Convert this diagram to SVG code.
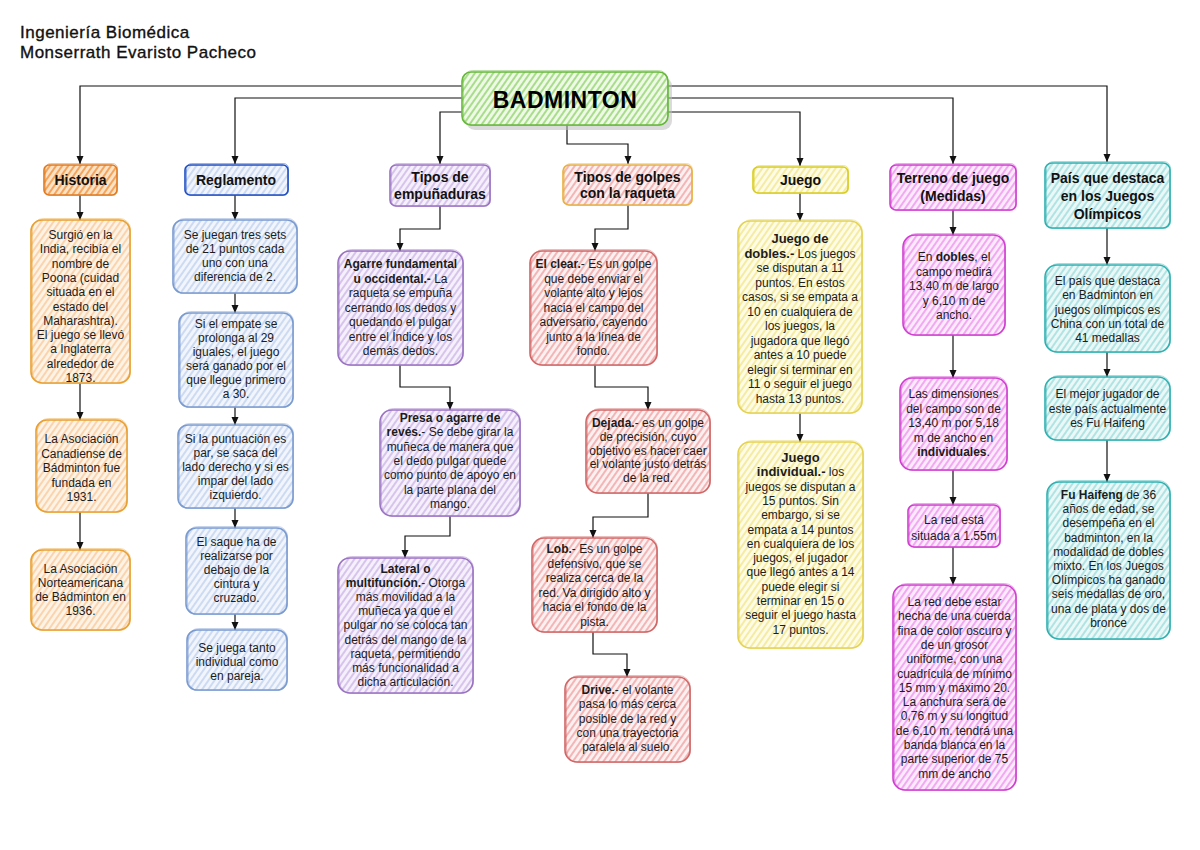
<svg xmlns="http://www.w3.org/2000/svg" width="1200" height="850" viewBox="0 0 1200 850">
<defs>
<pattern id="p-gr" width="5" height="5" patternUnits="userSpaceOnUse" patternTransform="rotate(35)"><rect width="5" height="5" fill="#eef9e6"/><line x1="1" y1="0" x2="1" y2="5" stroke="#98d676" stroke-width="1.6"/></pattern>
<pattern id="p-orH" width="5" height="5" patternUnits="userSpaceOnUse" patternTransform="rotate(35)"><rect width="5" height="5" fill="#fde2c6"/><line x1="1" y1="0" x2="1" y2="5" stroke="#f39a4a" stroke-width="1.7"/></pattern>
<pattern id="p-or" width="5" height="5" patternUnits="userSpaceOnUse" patternTransform="rotate(35)"><rect width="5" height="5" fill="#fff3e6"/><line x1="1" y1="0" x2="1" y2="5" stroke="#f8c796" stroke-width="1.4"/></pattern>
<pattern id="p-bl" width="5" height="5" patternUnits="userSpaceOnUse" patternTransform="rotate(35)"><rect width="5" height="5" fill="#f2f6fc"/><line x1="1" y1="0" x2="1" y2="5" stroke="#bccfee" stroke-width="1.4"/></pattern>
<pattern id="p-pu" width="5" height="5" patternUnits="userSpaceOnUse" patternTransform="rotate(35)"><rect width="5" height="5" fill="#f6f0fc"/><line x1="1" y1="0" x2="1" y2="5" stroke="#c9b1e5" stroke-width="1.4"/></pattern>
<pattern id="p-rd" width="5" height="5" patternUnits="userSpaceOnUse" patternTransform="rotate(35)"><rect width="5" height="5" fill="#fdf0f0"/><line x1="1" y1="0" x2="1" y2="5" stroke="#f0a2a2" stroke-width="1.5"/></pattern>
<pattern id="p-ye" width="5" height="5" patternUnits="userSpaceOnUse" patternTransform="rotate(35)"><rect width="5" height="5" fill="#fffce6"/><line x1="1" y1="0" x2="1" y2="5" stroke="#f1e68e" stroke-width="1.5"/></pattern>
<pattern id="p-mg" width="5" height="5" patternUnits="userSpaceOnUse" patternTransform="rotate(35)"><rect width="5" height="5" fill="#fdeafd"/><line x1="1" y1="0" x2="1" y2="5" stroke="#ee99ee" stroke-width="1.6"/></pattern>
<pattern id="p-tl" width="5" height="5" patternUnits="userSpaceOnUse" patternTransform="rotate(35)"><rect width="5" height="5" fill="#eaf8f8"/><line x1="1" y1="0" x2="1" y2="5" stroke="#9edcdc" stroke-width="1.5"/></pattern>
<marker id="ar" markerWidth="8" markerHeight="8" refX="8" refY="4" orient="auto" markerUnits="userSpaceOnUse"><path d="M0,0.5 L8,4 L0,7.5 z" fill="#111"/></marker>
<style>
.t{font-family:"Liberation Sans",Arial,sans-serif;font-size:12px;fill:#1c1c1c;text-anchor:middle}
.hd{font-size:14px;font-weight:bold;fill:#111}
.b{font-weight:bold}
.box{stroke-width:1.6}
.sk{fill:none;stroke-width:0.8;opacity:0.55}
.gr .box{fill:url(#p-gr);stroke:#66b83a}.gr .sk{stroke:#66b83a}
.orH .box{fill:url(#p-orH);stroke:#e07b20}.orH .sk{stroke:#e07b20}
.or .box{fill:url(#p-or);stroke:#e8a032}.or .sk{stroke:#e8a032}
.blH .box{fill:url(#p-bl);stroke:#1f4fc4}.blH .sk{stroke:#1f4fc4}
.bl .box{fill:url(#p-bl);stroke:#7a9bd0}.bl .sk{stroke:#7a9bd0}
.pu .box{fill:url(#p-pu);stroke:#9a72c2}.pu .sk{stroke:#9a72c2}
.rdH .box{fill:url(#p-rd);stroke:#e8b040}.rdH .sk{stroke:#e8b040}
.rd .box{fill:url(#p-rd);stroke:#d06666}.rd .sk{stroke:#d06666}
.yeH .box{fill:url(#p-ye);stroke:#d8cc1c}.yeH .sk{stroke:#d8cc1c}
.ye .box{fill:url(#p-ye);stroke:#e4d250}.ye .sk{stroke:#e4d250}
.mg .box{fill:url(#p-mg);stroke:#d03ed0}.mg .sk{stroke:#d03ed0}
.tl .box{fill:url(#p-tl);stroke:#2eb0b0}.tl .sk{stroke:#2eb0b0}
.ca{fill:none;stroke:#111;stroke-width:1.2;marker-end:url(#ar)}
.title{font-family:"Liberation Sans",Arial,sans-serif;font-size:17px;fill:#111;stroke:#111;stroke-width:0.35;letter-spacing:0.5px}
</style>
</defs>
<rect width="1200" height="850" fill="#ffffff"/>

<g id="title">
<text class="title" x="20" y="38">Ingeniería Biomédica</text>
<text class="title" x="20" y="58">Monserrath Evaristo Pacheco</text>
</g>

<g id="connectors">
<path class="ca" d="M462,86 H80 V164"/>
<path class="ca" d="M462,98 H235 V164"/>
<path class="ca" d="M462,112 H440 V164"/>
<path class="ca" d="M567,125 V144 H628 V164"/>
<path class="ca" d="M668,112 H800 V166"/>
<path class="ca" d="M668,98 H953 V164"/>
<path class="ca" d="M668,86 H1107 V162"/>
<path class="ca" d="M80,195 V220"/>
<path class="ca" d="M80,383 V420"/>
<path class="ca" d="M80,512 V550"/>
<path class="ca" d="M235,195 V220"/>
<path class="ca" d="M235,293 V313"/>
<path class="ca" d="M235,407 V425"/>
<path class="ca" d="M235,508 V528"/>
<path class="ca" d="M235,614 V630"/>
<path class="ca" d="M440,206 V229 H400 V251"/>
<path class="ca" d="M400,365 V387 H450 V410"/>
<path class="ca" d="M450,516 V536 H405 V558"/>
<path class="ca" d="M628,205 V229 H595 V251"/>
<path class="ca" d="M595,365 V387 H648 V410"/>
<path class="ca" d="M648,493 V517 H593 V538"/>
<path class="ca" d="M593,632 V654 H627 V677"/>
<path class="ca" d="M800,193 V221"/>
<path class="ca" d="M800,413 V442"/>
<path class="ca" d="M953,210 V235"/>
<path class="ca" d="M953,335 V378"/>
<path class="ca" d="M953,470 V505"/>
<path class="ca" d="M953,547 V585"/>
<path class="ca" d="M1107,228 V265"/>
<path class="ca" d="M1107,352 V377"/>
<path class="ca" d="M1107,440 V482"/>
</g>

<g id="badminton" class="gr">
<rect x="466" y="77" width="206" height="53" rx="9" fill="#bdbdbd" opacity="0.55"/>
<rect class="box" x="462" y="72" width="206" height="53" rx="9" stroke-width="2"/>
<rect class="sk" x="463.5" y="70.5" width="204" height="55" rx="9"/>
<text class="t b" x="565" y="108" style="font-size:23px;fill:#000;letter-spacing:0.5px">BADMINTON</text>
</g>

<g id="historia" class="orH">
<rect class="box" x="44" y="165" width="73" height="30" rx="5"/>
<rect class="sk" x="45.5" y="163.5" width="72" height="32" rx="5"/>
<text class="t hd" x="80.5" y="185">Historia</text>
</g>
<g id="historia-1" class="or">
<rect class="box" x="31" y="220" width="99" height="163" rx="11"/>
<rect class="sk" x="32.5" y="218.5" width="98" height="165" rx="11"/>
<text class="t"><tspan x="80.5" y="239">Surgió en la</tspan><tspan x="80.5" y="253.3">India, recibía el</tspan><tspan x="80.5" y="267.6">nombre de</tspan><tspan x="80.5" y="281.9">Poona (cuidad</tspan><tspan x="80.5" y="296.2">situada en el</tspan><tspan x="80.5" y="310.5">estado del</tspan><tspan x="80.5" y="324.8">Maharashtra).</tspan><tspan x="80.5" y="339.1">El juego se llevó</tspan><tspan x="80.5" y="353.4">a Inglaterra</tspan><tspan x="80.5" y="367.7">alrededor de</tspan><tspan x="80.5" y="382">1873.</tspan></text>
</g>
<g id="historia-2" class="or">
<rect class="box" x="36" y="420" width="91" height="92" rx="11"/>
<rect class="sk" x="37.5" y="418.5" width="90" height="94" rx="11"/>
<text class="t"><tspan x="81.5" y="443">La Asociación</tspan><tspan x="81.5" y="457.5">Canadiense de</tspan><tspan x="81.5" y="472">Bádminton fue</tspan><tspan x="81.5" y="486.5">fundada en</tspan><tspan x="81.5" y="501">1931.</tspan></text>
</g>
<g id="historia-3" class="or">
<rect class="box" x="31" y="550" width="99" height="80" rx="11"/>
<rect class="sk" x="32.5" y="548.5" width="98" height="82" rx="11"/>
<text class="t"><tspan x="80.5" y="573">La Asociación</tspan><tspan x="80.5" y="587">Norteamericana</tspan><tspan x="80.5" y="601">de Bádminton en</tspan><tspan x="80.5" y="615">1936.</tspan></text>
</g>

<g id="reglamento" class="blH">
<rect class="box" x="185" y="165" width="103" height="30" rx="5"/>
<rect class="sk" x="186.5" y="163.5" width="102" height="32" rx="5"/>
<text class="t hd" x="236" y="185">Reglamento</text>
</g>
<g id="reglamento-1" class="bl">
<rect class="box" x="173" y="220" width="124" height="73" rx="10"/>
<rect class="sk" x="174.5" y="218.5" width="123" height="75" rx="10"/>
<text class="t"><tspan x="235" y="239">Se juegan tres sets</tspan><tspan x="235" y="253">de 21 puntos cada</tspan><tspan x="235" y="267">uno con una</tspan><tspan x="235" y="281">diferencia de 2.</tspan></text>
</g>
<g id="reglamento-2" class="bl">
<rect class="box" x="179" y="313" width="114" height="94" rx="10"/>
<rect class="sk" x="180.5" y="311.5" width="113" height="96" rx="10"/>
<text class="t"><tspan x="236" y="328">Si el empate se</tspan><tspan x="236" y="342">prolonga al 29</tspan><tspan x="236" y="356">iguales, el juego</tspan><tspan x="236" y="370">será ganado por el</tspan><tspan x="236" y="384">que llegue primero</tspan><tspan x="236" y="398">a 30.</tspan></text>
</g>
<g id="reglamento-3" class="bl">
<rect class="box" x="178" y="425" width="115" height="83" rx="10"/>
<rect class="sk" x="179.5" y="423.5" width="114" height="85" rx="10"/>
<text class="t"><tspan x="235.5" y="443">Si la puntuación es</tspan><tspan x="235.5" y="457">par, se saca del</tspan><tspan x="235.5" y="471">lado derecho y si es</tspan><tspan x="235.5" y="485">impar del lado</tspan><tspan x="235.5" y="499">izquierdo.</tspan></text>
</g>
<g id="reglamento-4" class="bl">
<rect class="box" x="186" y="528" width="101" height="86" rx="10"/>
<rect class="sk" x="187.5" y="526.5" width="100" height="88" rx="10"/>
<text class="t"><tspan x="236.5" y="546">El saque ha de</tspan><tspan x="236.5" y="560">realizarse por</tspan><tspan x="236.5" y="574">debajo de la</tspan><tspan x="236.5" y="588">cintura y</tspan><tspan x="236.5" y="602">cruzado.</tspan></text>
</g>
<g id="reglamento-5" class="bl">
<rect class="box" x="187" y="630" width="100" height="60" rx="10"/>
<rect class="sk" x="188.5" y="628.5" width="99" height="62" rx="10"/>
<text class="t"><tspan x="237" y="652">Se juega tanto</tspan><tspan x="237" y="666">individual como</tspan><tspan x="237" y="680">en pareja.</tspan></text>
</g>

<g id="empunaduras" class="pu">
<rect class="box" x="390" y="165" width="100" height="41" rx="6"/>
<rect class="sk" x="391.5" y="163.5" width="99" height="43" rx="6"/>
<text class="t hd"><tspan x="440" y="182">Tipos de</tspan><tspan x="440" y="199">empuñaduras</tspan></text>
</g>
<g id="empunaduras-1" class="pu">
<rect class="box" x="338" y="251" width="125" height="114" rx="12"/>
<rect class="sk" x="339.5" y="249.5" width="124" height="116" rx="12"/>
<text class="t"><tspan x="400.5" y="268" class="b">Agarre fundamental</tspan><tspan x="400.5" y="282.5"><tspan class="b">u occidental.-</tspan>  La</tspan><tspan x="400.5" y="297">raqueta se empuña</tspan><tspan x="400.5" y="311.5">cerrando los dedos y</tspan><tspan x="400.5" y="326">quedando el pulgar</tspan><tspan x="400.5" y="340.5">entre el Índice y los</tspan><tspan x="400.5" y="355">demás dedos.</tspan></text>
</g>
<g id="empunaduras-2" class="pu">
<rect class="box" x="380" y="410" width="140" height="106" rx="12"/>
<rect class="sk" x="381.5" y="408.5" width="139" height="108" rx="12"/>
<text class="t"><tspan x="450" y="422" class="b">Presa o agarre de</tspan><tspan x="450" y="436.3"><tspan class="b">revés.</tspan>- Se debe girar la</tspan><tspan x="450" y="450.6">muñeca de manera que</tspan><tspan x="450" y="464.9">el dedo pulgar quede</tspan><tspan x="450" y="479.2">como punto de apoyo en</tspan><tspan x="450" y="493.5">la parte plana del</tspan><tspan x="450" y="507.8">mango.</tspan></text>
</g>
<g id="empunaduras-3" class="pu">
<rect class="box" x="338" y="558" width="135" height="135" rx="12"/>
<rect class="sk" x="339.5" y="556.5" width="134" height="137" rx="12"/>
<text class="t"><tspan x="405.5" y="573" class="b">Lateral o</tspan><tspan x="405.5" y="587.1"><tspan class="b">multifunción.</tspan>- Otorga</tspan><tspan x="405.5" y="601.2">más movilidad a la</tspan><tspan x="405.5" y="615.3">muñeca ya que el</tspan><tspan x="405.5" y="629.4">pulgar no se coloca tan</tspan><tspan x="405.5" y="643.5">detrás del mango de la</tspan><tspan x="405.5" y="657.6">raqueta, permitiendo</tspan><tspan x="405.5" y="671.7">más funcionalidad a</tspan><tspan x="405.5" y="685.8">dicha articulación.</tspan></text>
</g>

<g id="golpes" class="rdH">
<rect class="box" x="563" y="165" width="129" height="40" rx="6"/>
<rect class="sk" x="564.5" y="163.5" width="128" height="42" rx="6"/>
<text class="t hd"><tspan x="627.5" y="182">Tipos de golpes</tspan><tspan x="627.5" y="198">con la raqueta</tspan></text>
</g>
<g id="golpes-1" class="rd">
<rect class="box" x="530" y="251" width="127" height="114" rx="12"/>
<rect class="sk" x="531.5" y="249.5" width="126" height="116" rx="12"/>
<text class="t"><tspan x="593.5" y="268"><tspan class="b">El clear.</tspan>- Es un golpe</tspan><tspan x="593.5" y="282.5">que debe enviar el</tspan><tspan x="593.5" y="297">volante alto y lejos</tspan><tspan x="593.5" y="311.5">hacia el campo del</tspan><tspan x="593.5" y="326">adversario, cayendo</tspan><tspan x="593.5" y="340.5">junto a la línea de</tspan><tspan x="593.5" y="355">fondo.</tspan></text>
</g>
<g id="golpes-2" class="rd">
<rect class="box" x="586" y="410" width="124" height="83" rx="12"/>
<rect class="sk" x="587.5" y="408.5" width="123" height="85" rx="12"/>
<text class="t"><tspan x="648" y="427"><tspan class="b">Dejada.</tspan>- es un golpe</tspan><tspan x="648" y="440.8">de precisión, cuyo</tspan><tspan x="648" y="454.6">objetivo es hacer caer</tspan><tspan x="648" y="468.4">el volante justo detrás</tspan><tspan x="648" y="482.2">de la red.</tspan></text>
</g>
<g id="golpes-3" class="rd">
<rect class="box" x="532" y="538" width="125" height="94" rx="12"/>
<rect class="sk" x="533.5" y="536.5" width="124" height="96" rx="12"/>
<text class="t"><tspan x="594.5" y="553"><tspan class="b">Lob.</tspan>- Es un golpe</tspan><tspan x="594.5" y="567.5">defensivo, que se</tspan><tspan x="594.5" y="582">realiza cerca de la</tspan><tspan x="594.5" y="596.5">red. Va dirigido alto y</tspan><tspan x="594.5" y="611">hacia el fondo de la</tspan><tspan x="594.5" y="625.5">pista.</tspan></text>
</g>
<g id="golpes-4" class="rd">
<rect class="box" x="565" y="677" width="125" height="85" rx="12"/>
<rect class="sk" x="566.5" y="675.5" width="124" height="87" rx="12"/>
<text class="t"><tspan x="627.5" y="694"><tspan class="b">Drive.</tspan>- el volante</tspan><tspan x="627.5" y="708.3">pasa lo más cerca</tspan><tspan x="627.5" y="722.6">posible de la red y</tspan><tspan x="627.5" y="736.9">con una trayectoria</tspan><tspan x="627.5" y="751.2">paralela al suelo.</tspan></text>
</g>

<g id="juego" class="yeH">
<rect class="box" x="753" y="167" width="95" height="26" rx="5"/>
<rect class="sk" x="754.5" y="165.5" width="94" height="28" rx="5"/>
<text class="t hd" x="800.5" y="185">Juego</text>
</g>
<g id="juego-1" class="ye">
<rect class="box" x="738" y="221" width="124" height="192" rx="12"/>
<rect class="sk" x="739.5" y="219.5" width="123" height="194" rx="12"/>
<text class="t"><tspan x="800" y="243" class="b" style="font-size:13px">Juego de</tspan><tspan x="800" y="257.5"><tspan class="b" style="font-size:13px">dobles.-</tspan> Los juegos</tspan><tspan x="800" y="272">se disputan a 11</tspan><tspan x="800" y="286.5">puntos. En estos</tspan><tspan x="800" y="301">casos, si se empata a</tspan><tspan x="800" y="315.5">10 en cualquiera de</tspan><tspan x="800" y="330">los juegos, la</tspan><tspan x="800" y="344.5">jugadora que llegó</tspan><tspan x="800" y="359">antes a 10 puede</tspan><tspan x="800" y="373.5">elegir si terminar en</tspan><tspan x="800" y="388">11 o seguir el juego</tspan><tspan x="800" y="402.5">hasta 13 puntos.</tspan></text>
</g>
<g id="juego-2" class="ye">
<rect class="box" x="738" y="442" width="125" height="206" rx="12"/>
<rect class="sk" x="739.5" y="440.5" width="124" height="208" rx="12"/>
<text class="t"><tspan x="800.5" y="462" class="b" style="font-size:13px">Juego</tspan><tspan x="800.5" y="476.3"><tspan class="b" style="font-size:13px">individual.-</tspan> los</tspan><tspan x="800.5" y="490.6">juegos se disputan a</tspan><tspan x="800.5" y="504.9">15 puntos. Sin</tspan><tspan x="800.5" y="519.2">embargo, si se</tspan><tspan x="800.5" y="533.5">empata a 14 puntos</tspan><tspan x="800.5" y="547.8">en cualquiera de los</tspan><tspan x="800.5" y="562.1">juegos, el jugador</tspan><tspan x="800.5" y="576.4">que llegó antes a 14</tspan><tspan x="800.5" y="590.7">puede elegir si</tspan><tspan x="800.5" y="605">terminar en 15 o</tspan><tspan x="800.5" y="619.3">seguir el juego hasta</tspan><tspan x="800.5" y="633.6">17 puntos.</tspan></text>
</g>

<g id="terreno" class="mg">
<rect class="box" x="890" y="165" width="126" height="45" rx="6"/>
<rect class="sk" x="891.5" y="163.5" width="125" height="47" rx="6"/>
<text class="t hd"><tspan x="953" y="183">Terreno de juego</tspan><tspan x="953" y="201">(Medidas)</tspan></text>
</g>
<g id="terreno-1" class="mg">
<rect class="box" x="903" y="235" width="102" height="100" rx="12"/>
<rect class="sk" x="904.5" y="233.5" width="101" height="102" rx="12"/>
<text class="t"><tspan x="954" y="261">En <tspan class="b">dobles</tspan>, el</tspan><tspan x="954" y="275.5">campo medirá</tspan><tspan x="954" y="290">13,40 m de largo</tspan><tspan x="954" y="304.5">y 6,10 m de</tspan><tspan x="954" y="319">ancho.</tspan></text>
</g>
<g id="terreno-2" class="mg">
<rect class="box" x="900" y="378" width="107" height="92" rx="12"/>
<rect class="sk" x="901.5" y="376.5" width="106" height="94" rx="12"/>
<text class="t"><tspan x="953.5" y="398">Las dimensiones</tspan><tspan x="953.5" y="412.5">del campo son de</tspan><tspan x="953.5" y="427">13,40 m por 5,18</tspan><tspan x="953.5" y="441.5">m de ancho en</tspan><tspan x="953.5" y="456"><tspan class="b">individuales</tspan>.</tspan></text>
</g>
<g id="terreno-3" class="mg">
<rect class="box" x="908" y="505" width="92" height="42" rx="6"/>
<rect class="sk" x="909.5" y="503.5" width="91" height="44" rx="6"/>
<text class="t"><tspan x="954" y="524">La red está</tspan><tspan x="954" y="540">situada a 1.55m</tspan></text>
</g>
<g id="terreno-4" class="mg">
<rect class="box" x="893" y="585" width="123" height="205" rx="12"/>
<rect class="sk" x="894.5" y="583.5" width="122" height="207" rx="12"/>
<text class="t"><tspan x="954.5" y="606">La red debe estar</tspan><tspan x="954.5" y="620.3">hecha de una cuerda</tspan><tspan x="954.5" y="634.6">fina de color oscuro y</tspan><tspan x="954.5" y="648.9">de un grosor</tspan><tspan x="954.5" y="663.2">uniforme, con una</tspan><tspan x="954.5" y="677.5">cuadrícula de mínimo</tspan><tspan x="954.5" y="691.8">15 mm y máximo 20.</tspan><tspan x="954.5" y="706.1">La anchura será de</tspan><tspan x="954.5" y="720.4">0,76 m y su longitud</tspan><tspan x="954.5" y="734.7">de 6,10 m. tendrá una</tspan><tspan x="954.5" y="749">banda blanca en la</tspan><tspan x="954.5" y="763.3">parte superior de 75</tspan><tspan x="954.5" y="777.6">mm de ancho</tspan></text>
</g>

<g id="pais" class="tl">
<rect class="box" x="1045" y="163" width="125" height="65" rx="7"/>
<rect class="sk" x="1046.5" y="161.5" width="124" height="67" rx="7"/>
<text class="t hd"><tspan x="1107.5" y="183">País que destaca</tspan><tspan x="1107.5" y="201">en los Juegos</tspan><tspan x="1107.5" y="219">Olímpicos</tspan></text>
</g>
<g id="pais-1" class="tl">
<rect class="box" x="1045" y="265" width="125" height="87" rx="12"/>
<rect class="sk" x="1046.5" y="263.5" width="124" height="89" rx="12"/>
<text class="t"><tspan x="1107.5" y="285">El país que destaca</tspan><tspan x="1107.5" y="299.3">en Badminton en</tspan><tspan x="1107.5" y="313.6">juegos olímpicos es</tspan><tspan x="1107.5" y="327.9">China con un total de</tspan><tspan x="1107.5" y="342.2">41 medallas</tspan></text>
</g>
<g id="pais-2" class="tl">
<rect class="box" x="1045" y="377" width="125" height="63" rx="12"/>
<rect class="sk" x="1046.5" y="375.5" width="124" height="65" rx="12"/>
<text class="t"><tspan x="1107.5" y="398">El mejor jugador de</tspan><tspan x="1107.5" y="412.5">este país actualmente</tspan><tspan x="1107.5" y="427">es Fu Haifeng</tspan></text>
</g>
<g id="pais-3" class="tl">
<rect class="box" x="1047" y="482" width="123" height="157" rx="12"/>
<rect class="sk" x="1048.5" y="480.5" width="122" height="159" rx="12"/>
<text class="t"><tspan x="1108.5" y="499"><tspan class="b">Fu Haifeng</tspan> de 36</tspan><tspan x="1108.5" y="513.2">años de edad, se</tspan><tspan x="1108.5" y="527.4">desempeña en el</tspan><tspan x="1108.5" y="541.6">badminton, en la</tspan><tspan x="1108.5" y="555.8">modalidad de dobles</tspan><tspan x="1108.5" y="570">mixto. En los Juegos</tspan><tspan x="1108.5" y="584.2">Olímpicos ha ganado</tspan><tspan x="1108.5" y="598.4">seis medallas de oro,</tspan><tspan x="1108.5" y="612.6">una de plata y dos de</tspan><tspan x="1108.5" y="626.8">bronce</tspan></text>
</g>
</svg>
